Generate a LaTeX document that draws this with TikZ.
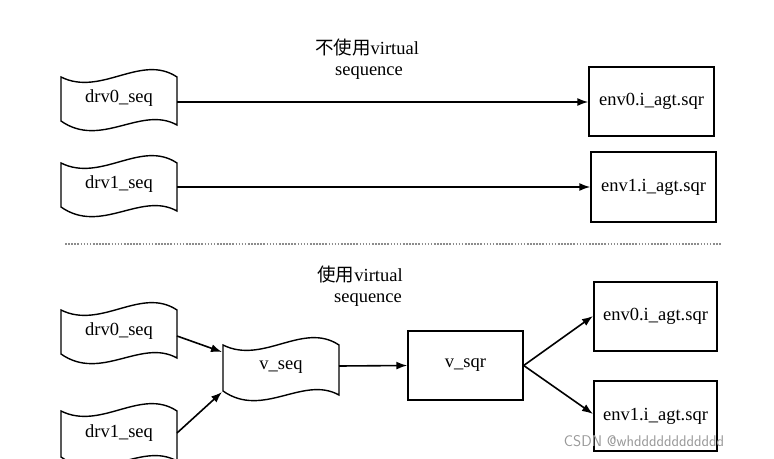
\documentclass[tikz,border=0pt]{standalone}
\usepackage{fontspec}
\setmainfont{Liberation Serif}
\newfontfamily\cjk{Noto Sans CJK SC}
\usetikzlibrary{arrows.meta}
\begin{document}
\begin{tikzpicture}[x=1pt,y=-1pt,
  line width=1.4,
  arr/.style={-{Latex[length=11,width=8]},line width=1.6},
  every node/.style={font=\fontsize{18.5}{22}\selectfont}]
\useasboundingbox (0,0) rectangle (774,458);
\fill[white] (0,0) rectangle (774,458);
\newcommand\wbox[6]{%
  \begin{scope}[shift={(#2,#3)}]
  \draw (0,6) .. controls (40,26) and (80,-18) .. (#4,6) -- (#4,#5)
     .. controls (80,#5-20) and (40,#5+24) .. (0,#5-4) -- cycle;
  \node[inner sep=0] (#1) at (#4/2,#5/2) {#6};
  \end{scope}}
\wbox{a0}{61}{71}{116}{54}{drv0\_seq}
\wbox{a1}{61}{157}{116}{54}{drv1\_seq}
\node[draw,minimum width=125,minimum height=69,inner sep=0] (e0) at (651.5,101.5) {env0.i\_agt.sqr};
\node[draw,minimum width=125,minimum height=70,inner sep=0] (e1) at (653.5,187) {env1.i\_agt.sqr};
\draw[arr] (177,102) -- (e0.west |- 0,102);
\draw[arr] (177,187) -- (e1.west |- 0,187);
\node (t1) at (367,47) {{\cjk 不使用}virtual};
\node (t1b) at (369,73) {sequence};
\draw[gray!90,line width=1.5,dash pattern=on 1.6 off 1.5] (65,244) -- (722,244);
\node (t2) at (360,274) {{\cjk 使用}virtual};
\node (t2b) at (368,300) {sequence};
\wbox{b0}{61}{304}{116}{54}{drv0\_seq}
\begin{scope}
\clip (0,0) rectangle (774,458);
\wbox{b1}{61}{405}{116}{56}{drv1\_seq}
\end{scope}
\wbox{vs}{223}{339}{116}{56}{v\_seq}
\node[draw,minimum width=115,minimum height=69,inner sep=0] (vq) at (465.5,365.5) {v\_sqr};
\node[draw,minimum width=123,minimum height=69,inner sep=0] (f0) at (655.5,316.5) {env0.i\_agt.sqr};
\node[draw,minimum width=123,minimum height=70,inner sep=0] (f1) at (655.5,416) {env1.i\_agt.sqr};
\draw[arr] (177,336) -- (222,352);
\draw[arr] (177,433) -- (222,392);
\draw[arr] (339,366) -- (vq.west);
\draw[arr] (vq.east) -- (593,316);
\draw[arr] (vq.east) -- (593,414);
\node[text=gray!80,font=\fontsize{15.5}{18}\selectfont\sffamily] (wm) at (644,441) {CSDN @whdddddddddddd};
\end{tikzpicture}
\end{document}
